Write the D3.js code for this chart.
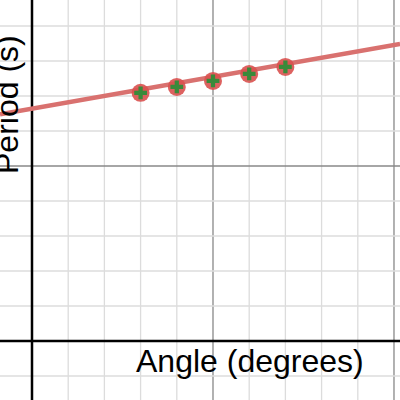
<!DOCTYPE html>
<html><head><meta charset="utf-8">
<script src="https://cdn.jsdelivr.net/npm/d3@7"></script>
<style>body{margin:0;background:#fff}</style>
</head><body>
<svg id="chart" width="400" height="400"></svg>
<script>
// data (grid units)
var angles = [3, 4, 5, 6, 7];
var periods = [7.09, 7.26, 7.43, 7.63, 7.83];
var fitIntercept = 6.64, fitSlope = 0.182;

var width = 400, height = 400;
var x = d3.scaleLinear().domain([-0.884, 10.166]).range([0, 400]);
var y = d3.scaleLinear().domain([-1.686, 9.743]).range([400, 0]);

var svg = d3.select('#chart');

// grid
d3.range(-1, 12).forEach(function(v){
  svg.append('line').attr('x1', x(v)).attr('x2', x(v)).attr('y1', 0).attr('y2', height)
    .attr('stroke', v % 5 === 0 ? '#888' : '#dcdcdc').attr('stroke-width', 1.3);
});
d3.range(-2, 11).forEach(function(v){
  svg.append('line').attr('y1', y(v)).attr('y2', y(v)).attr('x1', 0).attr('x2', width)
    .attr('stroke', v % 5 === 0 ? '#888' : '#dcdcdc').attr('stroke-width', 1.3);
});

// axes
svg.append('line').attr('x1', x(0)).attr('x2', x(0)).attr('y1', 0).attr('y2', height).attr('stroke', '#000').attr('stroke-width', 2.5);
svg.append('line').attr('y1', y(0)).attr('y2', y(0)).attr('x1', 0).attr('x2', width).attr('stroke', '#000').attr('stroke-width', 2.5);

// fit line
var line = d3.line().x(function(d){ return x(d); }).y(function(d){ return y(fitIntercept + fitSlope*d); });
svg.append('path').datum(x.domain()).attr('d', line).attr('fill', 'none')
  .attr('stroke', '#d9716f').attr('stroke-width', 4.5);

// points
var pts = angles.map(function(a, i){ return { a: a, p: periods[i] }; });
svg.selectAll('.dot').data(pts).enter().append('circle')
  .attr('cx', function(d){ return x(d.a); }).attr('cy', function(d){ return y(d.p); })
  .attr('r', 9).attr('fill', '#d9514f').attr('opacity', 0.9);
var plus = d3.symbol().type(d3.symbolCross).size(90);
svg.selectAll('.plus').data(pts).enter().append('path')
  .attr('d', plus)
  .attr('transform', function(d){ return 'translate(' + x(d.a) + ',' + y(d.p) + ')'; })
  .attr('fill', '#3a8a3a');

// labels
svg.append('text').attr('x', 136).attr('y', 372)
  .attr('font-family', 'Liberation Sans, Arial, sans-serif').attr('font-size', 32)
  .text('Angle (degrees)');
svg.append('text').attr('transform', 'translate(18,174) rotate(-90)')
  .attr('font-family', 'Liberation Sans, Arial, sans-serif').attr('font-size', 32)
  .text('Period (s)');
</script>
</body></html>
